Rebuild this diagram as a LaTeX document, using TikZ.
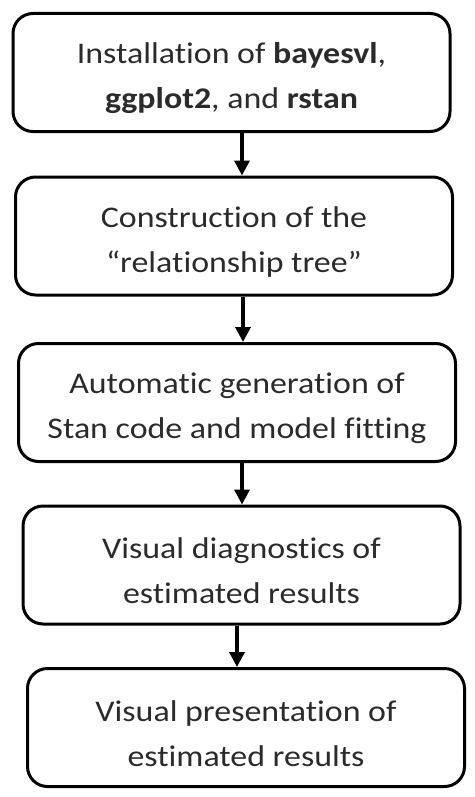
\documentclass[tikz,border=0pt]{standalone}
\usepackage{fontspec}
\setmainfont{Carlito}[Ligatures=NoCommon, FakeStretch=1.13]
\usetikzlibrary{arrows.meta}

\definecolor{steptext}{HTML}{2B2B2B}
\newcommand{\steplift}{\rule{0pt}{33pt}}
\tikzset{
    stepbox/.style={draw, line width=3pt, rounded corners=20pt,
        minimum width=437pt, minimum height=118pt, align=center,
        text=steptext, font=\fontsize{30}{45}\selectfont},
    steparrow/.style={line width=3.5pt, -{Triangle[length=15pt,width=15pt]}}
}

\begin{document}
\begin{tikzpicture}[x=1pt, y=-1pt]
    \useasboundingbox (0,0) rectangle (474,797);
    \path (231.5,  72.5) node [stepbox] (install) {\steplift Installation of \textbf{bayesvl},\\\textbf{ggplot2}, and \textbf{rstan}};
    \path (234.0, 236.0) node [stepbox] (tree) {\steplift Construction of the\\``relationship tree''};
    \path (237.0, 402.5) node [stepbox] (stan) {\steplift Automatic generation of\\Stan code and model fitting};
    \path (241.5, 565.0) node [stepbox] (diag) {\steplift Visual diagnostics of\\estimated results};
    \path (246.0, 727.5) node [stepbox] (present) {\steplift Visual presentation of\\estimated results};
    \draw [steparrow] ([xshift=10.5pt]install.south) -- ([xshift=8pt]tree.north);
    \draw [steparrow] ([xshift=9pt]tree.south) -- ([xshift=6pt]stan.north);
    \draw [steparrow] ([xshift=5pt]stan.south) -- ([xshift=0.5pt]diag.north);
    \draw [steparrow] ([xshift=-4.5pt]diag.south) -- ([xshift=-9pt]present.north);
\end{tikzpicture}
\end{document}
